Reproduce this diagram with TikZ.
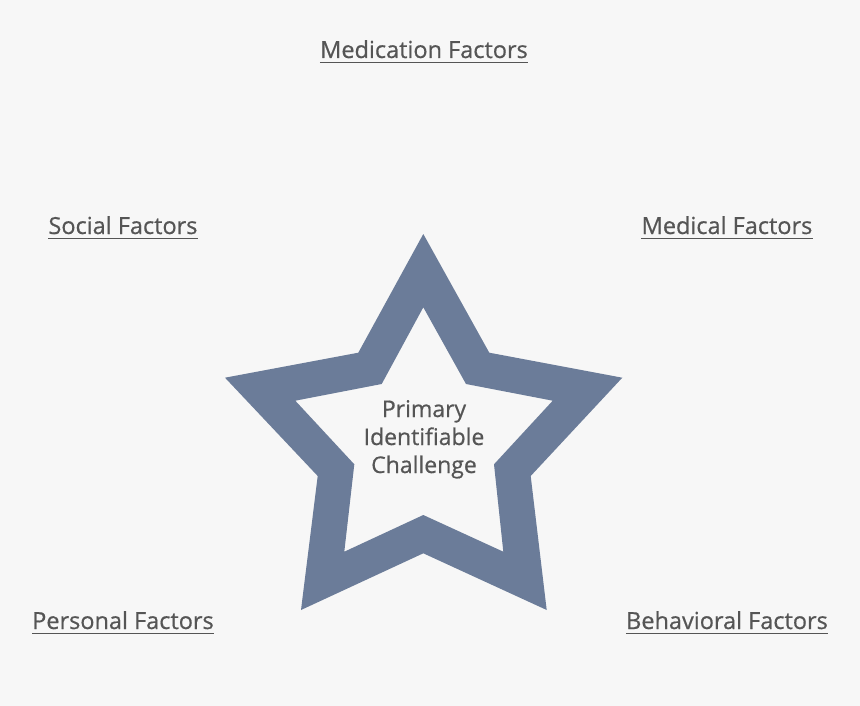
\documentclass[tikz,border=0pt]{standalone}
\usepackage{fontspec}
\setmainfont{Open Sans}
\newfontfamily\labfont[FakeBold=0.6]{Open Sans}
\usetikzlibrary{calc}
\definecolor{bg}{HTML}{F7F7F7}
\definecolor{starc}{HTML}{6B7C99}
\definecolor{txt}{HTML}{555555}
\begin{document}
\begin{tikzpicture}[x=1pt,y=-1pt,
  factor/.style={text=txt,font=\labfont\fontsize{23.5}{28}\selectfont,inner sep=0pt,anchor=base},
  center/.style={text=txt,font=\labfont\fontsize{23}{28}\selectfont,align=center,inner sep=0pt,anchor=base},
  uline/.style={draw=txt,line width=1.6pt}]
\fill[bg] (0,0) rectangle (860,706);
\useasboundingbox (0,0) rectangle (860,706);
\fill[starc,even odd rule]
  (423.3,234) -- (489.3,352.7) -- (622.3,377.7) -- (530.7,476) -- (546.7,610)
  -- (423.3,553.3) -- (301,610) -- (317.7,476) -- (225,377.7) -- (358.3,352.7) -- cycle
  (423.3,307.3) -- (466,384) -- (552.7,400.7) -- (494,464.3) -- (503.3,551.7)
  -- (423.3,515) -- (344.3,551.7) -- (354.3,464.3) -- (295.3,400.7) -- (381.7,384) -- cycle;
\node[center] (c) at (424,473) {Primary\\Identifiable\\Challenge};
\node[factor] (med) at (424,58) {Medication Factors};
\node[factor] (soc) at (123,234) {Social Factors};
\node[factor] (mdl) at (727,234) {Medical Factors};
\node[factor] (per) at (123,629) {Personal Factors};
\node[factor] (beh) at (727,629) {Behavioral Factors};
\foreach \n in {med,soc,mdl,per,beh}
  \draw[uline] ($(\n.base west)+(0,4.5)$) -- ($(\n.base east)+(0,4.5)$);
\end{tikzpicture}
\end{document}
